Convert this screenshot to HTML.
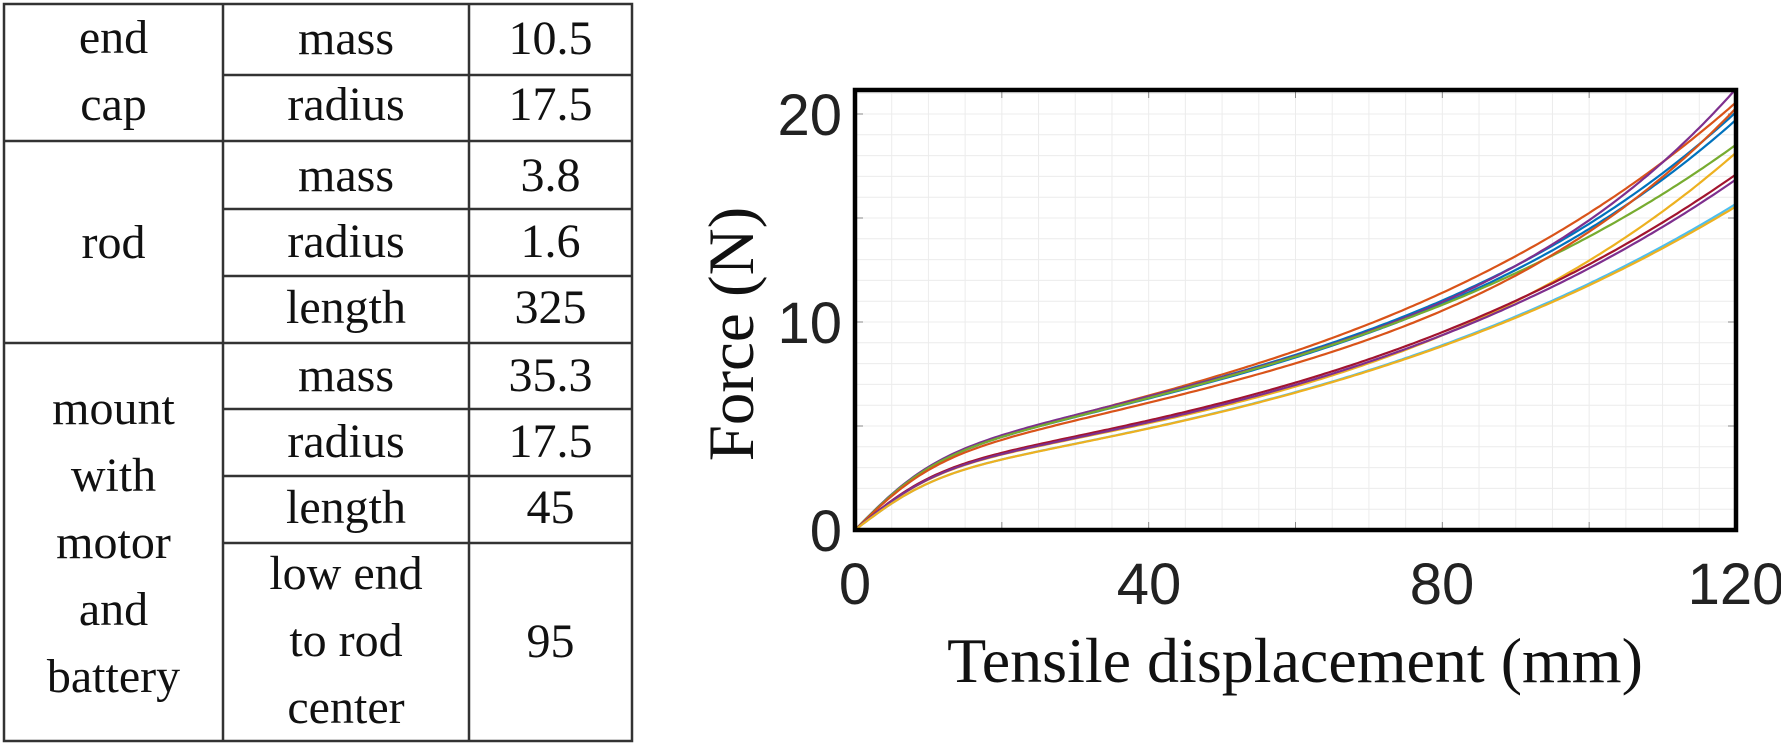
<!DOCTYPE html>
<html><head><meta charset="utf-8"><style>
html,body{margin:0;padding:0;background:#fff;width:1781px;height:744px;overflow:hidden}
.t{position:absolute;font-family:"Liberation Serif",serif;font-size:48px;color:#111;text-align:center;line-height:67px}
</style></head><body>
<svg width="1781" height="744" style="position:absolute;left:0;top:0" xmlns="http://www.w3.org/2000/svg">
<defs><clipPath id="cp"><rect x="855" y="90" width="881" height="440"/></clipPath></defs>
<g stroke="#333" stroke-width="2.5" fill="none">
<rect x="4" y="4" width="628" height="737"/>
<line x1="223" y1="4" x2="223" y2="741"/><line x1="469" y1="4" x2="469" y2="741"/>
<line x1="4" y1="141" x2="632" y2="141"/><line x1="4" y1="343" x2="632" y2="343"/>
<line x1="223" y1="75" x2="632" y2="75"/><line x1="223" y1="209" x2="632" y2="209"/><line x1="223" y1="276" x2="632" y2="276"/>
<line x1="223" y1="409" x2="632" y2="409"/><line x1="223" y1="476" x2="632" y2="476"/><line x1="223" y1="543" x2="632" y2="543"/>
</g>
<g id="grid"></g><g id="curves" fill="none" stroke-width="2.2" clip-path="url(#cp)"></g>
<rect x="855" y="90" width="881" height="440" fill="none" stroke="#000" stroke-width="4.5"/>
<g font-family="Liberation Sans,sans-serif" font-size="58" fill="#222">
<text x="855" y="604" text-anchor="middle">0</text>
<text x="1149" y="604" text-anchor="middle">40</text>
<text x="1442" y="604" text-anchor="middle">80</text>
<text x="1736" y="604" text-anchor="middle">120</text>
<text x="842" y="551" text-anchor="end">0</text>
<text x="842" y="343" text-anchor="end">10</text>
<text x="842" y="135" text-anchor="end">20</text>
</g>
<text x="1295" y="682" font-family="Liberation Serif,serif" font-size="64" text-anchor="middle" fill="#111">Tensile displacement (mm)</text>
<text transform="translate(753,334) rotate(-90)" font-family="Liberation Serif,serif" font-size="65" text-anchor="middle" fill="#111">Force (N)</text>
</svg>
<div class="t" style="left:4px;top:4px;width:219px">end<br>cap</div>
<div class="t" style="left:4px;top:209px;width:219px">rod</div>
<div class="t" style="left:4px;top:375px;width:219px">mount<br>with<br>motor<br>and<br>battery</div>
<div class="t" style="left:223px;top:5px;width:246px">mass</div>
<div class="t" style="left:223px;top:71px;width:246px">radius</div>
<div class="t" style="left:223px;top:142px;width:246px">mass</div>
<div class="t" style="left:223px;top:208px;width:246px">radius</div>
<div class="t" style="left:223px;top:274px;width:246px">length</div>
<div class="t" style="left:223px;top:342px;width:246px">mass</div>
<div class="t" style="left:223px;top:408px;width:246px">radius</div>
<div class="t" style="left:223px;top:474px;width:246px">length</div>
<div class="t" style="left:223px;top:540px;width:246px">low end<br>to rod<br>center</div>
<div class="t" style="left:469px;top:5px;width:163px">10.5</div>
<div class="t" style="left:469px;top:71px;width:163px">17.5</div>
<div class="t" style="left:469px;top:142px;width:163px">3.8</div>
<div class="t" style="left:469px;top:208px;width:163px">1.6</div>
<div class="t" style="left:469px;top:274px;width:163px">325</div>
<div class="t" style="left:469px;top:342px;width:163px">35.3</div>
<div class="t" style="left:469px;top:408px;width:163px">17.5</div>
<div class="t" style="left:469px;top:474px;width:163px">45</div>
<div class="t" style="left:469px;top:608px;width:163px">95</div>
<script>
function X(x){return 855+x*881/120}
function Y(y){return 530-y*20.8}
var h="";
for(var x=5;x<120;x+=5)h+='<line x1="'+X(x)+'" y1="90" x2="'+X(x)+'" y2="530" stroke="#ececec" stroke-width="1"/>';
for(var y=1;y<=21;y++)h+='<line x1="855" y1="'+Y(y)+'" x2="1736" y2="'+Y(y)+'" stroke="#ececec" stroke-width="1"/>';
for(var x=20;x<120;x+=20)h+='<line x1="'+X(x)+'" y1="530" x2="'+X(x)+'" y2="522" stroke="#888"/><line x1="'+X(x)+'" y1="90" x2="'+X(x)+'" y2="98" stroke="#888"/>';
for(var y=5;y<=20;y+=5)h+='<line x1="855" y1="'+Y(y)+'" x2="863" y2="'+Y(y)+'" stroke="#888"/><line x1="1728" y1="'+Y(y)+'" x2="1736" y2="'+Y(y)+'" stroke="#888"/>';
document.getElementById("grid").innerHTML=h;
var P=[["#D95319",3.0,0.083,7.6,3.6],["#0072BD",3.05,0.082,7.2,4],["#7E2F8E",3.05,0.083,8.2,4.6],["#0072BD",3.0,0.081,7.0,4],["#77AC30",3.0,0.081,5.8,3.6],["#D95319",2.9,0.079,7.9,4.4],["#EDB120",2.5,0.062,8.2,3.6],["#A2142F",2.6,0.0608,7.2,3.1],["#7E2F8E",2.55,0.0600,7.1,3.1],["#4DBEEE",2.3,0.059,6.3,3],["#EDB120",2.3,0.0588,6.2,3]];
var s="";
P.forEach(function(p){var d="";for(var i=0;i<=240;i++){var x=i/2;var f=p[1]*Math.tanh(x/11)+p[2]*x+p[3]*Math.pow(x/120,p[4]);d+=(i?"L":"M")+X(x).toFixed(1)+" "+Y(f).toFixed(1);}s+='<path d="'+d+'" stroke="'+p[0]+'"/>';});
document.getElementById("curves").innerHTML=s;
</script>
</body></html>
